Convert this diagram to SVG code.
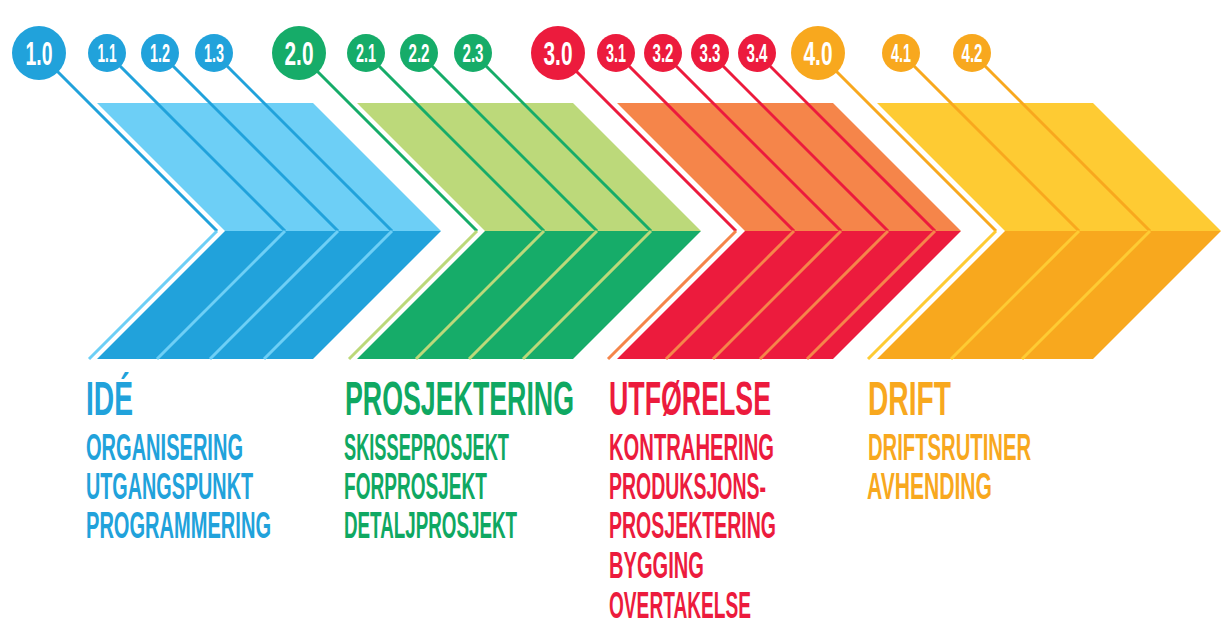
<svg xmlns="http://www.w3.org/2000/svg" width="1230" height="642" viewBox="0 0 1230 642">
<style>
.lb{fill:#6dcff6}.db{fill:#21a2db}
.lg{fill:#bcd97a}.dg{fill:#16ac69}
.lr{fill:#f5854a}.dr{fill:#ec1b3d}
.ly{fill:#fecb33}.dy{fill:#f8a81e}
.c text{fill:#fff;font-family:"Liberation Sans",Arial,sans-serif;font-weight:bold;text-anchor:middle}
.big{font-size:33px}.small{font-size:25px}
.conn path{fill:none;stroke-width:3}
.sb{stroke:#21a2db}.sbl{stroke:#6dcff6}
.sg{stroke:#16ac69}.sgl{stroke:#bcd97a}
.sr{stroke:#ec1b3d}.srl{stroke:#f5854a}
.sy{stroke:#f8a81e}.syl{stroke:#fecb33}
.t text{font-family:"Liberation Sans",Arial,sans-serif;font-weight:bold}
.h{font-size:48px}.s{font-size:36px}
.tb{fill:#21a2db}.tg{fill:#0fa862}.tr{fill:#ec1b3d}.ty{fill:#f8a81e}
</style>
<rect width="1230" height="642" fill="#fff"/>
<g id="chevron-1">
<polygon class="lb" points="97,103 313,103 441,231 225,231"/>
<polygon class="db" points="225,231 441,231 313,359 97,359"/>
</g>
<g id="chevron-2">
<polygon class="lg" points="357,103 573,103 701,231 485,231"/>
<polygon class="dg" points="485,231 701,231 573,359 357,359"/>
</g>
<g id="chevron-3">
<polygon class="lr" points="617,103 833,103 961,231 745,231"/>
<polygon class="dr" points="745,231 961,231 833,359 617,359"/>
</g>
<g id="chevron-4">
<polygon class="ly" points="877,103 1093,103 1221,231 1005,231"/>
<polygon class="dy" points="1005,231 1221,231 1093,359 877,359"/>
</g>
<g id="connectors" class="conn">
<path class="sb" d="M39,53 L217,231"/><path class="sbl" d="M217,231 L89,359"/>
<path class="sb" d="M107,53 L285,231"/><path class="sbl" d="M285,231 L157,359"/>
<path class="sb" d="M160,53 L338,231"/><path class="sbl" d="M338,231 L210,359"/>
<path class="sb" d="M214,53 L392,231"/><path class="sbl" d="M392,231 L264,359"/>
<path class="sg" d="M299,53 L477,231"/><path class="sgl" d="M477,231 L349,359"/>
<path class="sg" d="M366,53 L544,231"/><path class="sgl" d="M544,231 L416,359"/>
<path class="sg" d="M419,53 L597,231"/><path class="sgl" d="M597,231 L469,359"/>
<path class="sg" d="M473,53 L651,231"/><path class="sgl" d="M651,231 L523,359"/>
<path class="sr" d="M558,53 L736,231"/><path class="srl" d="M736,231 L608,359"/>
<path class="sr" d="M616,53 L794,231"/><path class="srl" d="M794,231 L666,359"/>
<path class="sr" d="M663,53 L841,231"/><path class="srl" d="M841,231 L713,359"/>
<path class="sr" d="M710,53 L888,231"/><path class="srl" d="M888,231 L760,359"/>
<path class="sr" d="M757,53 L935,231"/><path class="srl" d="M935,231 L807,359"/>
<path class="sy" d="M818,53 L996,231"/><path class="syl" d="M996,231 L868,359"/>
<path class="sy" d="M901,53 L1079,231"/><path class="syl" d="M1079,231 L951,359"/>
<path class="sy" d="M972,53 L1150,231"/><path class="syl" d="M1150,231 L1022,359"/>
</g>
<g id="n1-0" class="c"><circle class="db" cx="39" cy="53" r="27"/><text class="big" x="39" y="65" textLength="27" lengthAdjust="spacingAndGlyphs">1.0</text></g>
<g id="n1-1" class="c"><circle class="db" cx="107" cy="53" r="19"/><text class="small" x="107" y="62" textLength="19" lengthAdjust="spacingAndGlyphs">1.1</text></g>
<g id="n1-2" class="c"><circle class="db" cx="160" cy="53" r="19"/><text class="small" x="160" y="62" textLength="20" lengthAdjust="spacingAndGlyphs">1.2</text></g>
<g id="n1-3" class="c"><circle class="db" cx="214" cy="53" r="19"/><text class="small" x="214" y="62" textLength="20" lengthAdjust="spacingAndGlyphs">1.3</text></g>
<g id="n2-0" class="c"><circle class="dg" cx="299" cy="53" r="27"/><text class="big" x="299" y="65" textLength="29" lengthAdjust="spacingAndGlyphs">2.0</text></g>
<g id="n2-1" class="c"><circle class="dg" cx="366" cy="53" r="19"/><text class="small" x="366" y="62" textLength="20" lengthAdjust="spacingAndGlyphs">2.1</text></g>
<g id="n2-2" class="c"><circle class="dg" cx="419" cy="53" r="19"/><text class="small" x="419" y="62" textLength="21" lengthAdjust="spacingAndGlyphs">2.2</text></g>
<g id="n2-3" class="c"><circle class="dg" cx="473" cy="53" r="19"/><text class="small" x="473" y="62" textLength="21" lengthAdjust="spacingAndGlyphs">2.3</text></g>
<g id="n3-0" class="c"><circle class="dr" cx="558" cy="53" r="27"/><text class="big" x="558" y="65" textLength="29" lengthAdjust="spacingAndGlyphs">3.0</text></g>
<g id="n3-1" class="c"><circle class="dr" cx="616" cy="53" r="19"/><text class="small" x="616" y="62" textLength="20" lengthAdjust="spacingAndGlyphs">3.1</text></g>
<g id="n3-2" class="c"><circle class="dr" cx="663" cy="53" r="19"/><text class="small" x="663" y="62" textLength="21" lengthAdjust="spacingAndGlyphs">3.2</text></g>
<g id="n3-3" class="c"><circle class="dr" cx="710" cy="53" r="19"/><text class="small" x="710" y="62" textLength="21" lengthAdjust="spacingAndGlyphs">3.3</text></g>
<g id="n3-4" class="c"><circle class="dr" cx="757" cy="53" r="19"/><text class="small" x="757" y="62" textLength="21" lengthAdjust="spacingAndGlyphs">3.4</text></g>
<g id="n4-0" class="c"><circle class="dy" cx="818" cy="53" r="27"/><text class="big" x="818" y="65" textLength="29" lengthAdjust="spacingAndGlyphs">4.0</text></g>
<g id="n4-1" class="c"><circle class="dy" cx="901" cy="53" r="19"/><text class="small" x="901" y="62" textLength="20" lengthAdjust="spacingAndGlyphs">4.1</text></g>
<g id="n4-2" class="c"><circle class="dy" cx="972" cy="53" r="19"/><text class="small" x="972" y="62" textLength="21" lengthAdjust="spacingAndGlyphs">4.2</text></g>
<g id="text-ide" class="t tb">
<text class="h" x="86" y="415" textLength="47" lengthAdjust="spacingAndGlyphs">IDÉ</text>
<text class="s" x="86" y="460" textLength="157" lengthAdjust="spacingAndGlyphs">ORGANISERING</text>
<text class="s" x="86" y="499" textLength="167" lengthAdjust="spacingAndGlyphs">UTGANGSPUNKT</text>
<text class="s" x="86" y="538" textLength="185" lengthAdjust="spacingAndGlyphs">PROGRAMMERING</text>
</g>
<g id="text-prosjektering" class="t tg">
<text class="h" x="345" y="415" textLength="229" lengthAdjust="spacingAndGlyphs">PROSJEKTERING</text>
<text class="s" x="344" y="460" textLength="165" lengthAdjust="spacingAndGlyphs">SKISSEPROSJEKT</text>
<text class="s" x="344" y="499" textLength="143" lengthAdjust="spacingAndGlyphs">FORPROSJEKT</text>
<text class="s" x="344" y="538" textLength="173" lengthAdjust="spacingAndGlyphs">DETALJPROSJEKT</text>
</g>
<g id="text-utforelse" class="t tr">
<text class="h" x="609" y="415" textLength="162" lengthAdjust="spacingAndGlyphs">UTFØRELSE</text>
<text class="s" x="609" y="460" textLength="165" lengthAdjust="spacingAndGlyphs">KONTRAHERING</text>
<text class="s" x="609" y="499" textLength="157" lengthAdjust="spacingAndGlyphs">PRODUKSJONS-</text>
<text class="s" x="609" y="538" textLength="167" lengthAdjust="spacingAndGlyphs">PROSJEKTERING</text>
<text class="s" x="609" y="578" textLength="95" lengthAdjust="spacingAndGlyphs">BYGGING</text>
<text class="s" x="609" y="618" textLength="142" lengthAdjust="spacingAndGlyphs">OVERTAKELSE</text>
</g>
<g id="text-drift" class="t ty">
<text class="h" x="868" y="415" textLength="83" lengthAdjust="spacingAndGlyphs">DRIFT</text>
<text class="s" x="868" y="460" textLength="163" lengthAdjust="spacingAndGlyphs">DRIFTSRUTINER</text>
<text class="s" x="867" y="499" textLength="125" lengthAdjust="spacingAndGlyphs">AVHENDING</text>
</g>
</svg>
